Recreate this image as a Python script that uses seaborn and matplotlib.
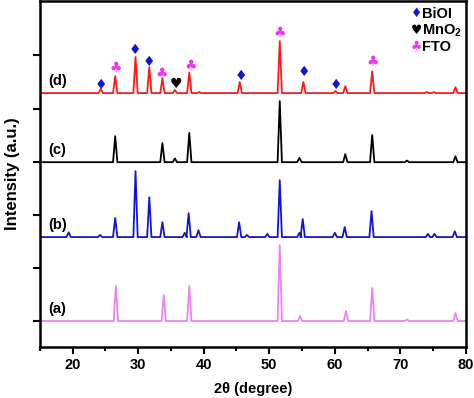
import numpy as np
import matplotlib
matplotlib.use('Agg')
import matplotlib.pyplot as plt
import seaborn as sns
import pandas as pd

# peak positions (2theta) and heights (a.u., tick spacing = 1)
a_pos = [26.6, 33.9, 37.8, 51.6, 54.7, 61.7, 65.7, 71.0, 78.4]
a_int = [0.66, 0.49, 0.66, 1.43, 0.09, 0.19, 0.62, 0.03, 0.15]

b_pos = [19.4, 24.2, 26.5, 29.6, 31.7, 33.7, 37.1, 37.7, 39.2, 45.4, 46.6, 49.7,
         51.6, 54.6, 55.1, 60.0, 61.5, 65.6, 74.2, 75.2, 78.3]
b_int = [0.09, 0.04, 0.36, 1.24, 0.75, 0.28, 0.08, 0.45, 0.13, 0.28, 0.04, 0.06,
         1.07, 0.08, 0.34, 0.08, 0.19, 0.49, 0.06, 0.06, 0.11]

c_pos = [26.5, 33.7, 35.6, 37.8, 51.6, 54.6, 61.6, 65.7, 71.0, 78.4]
c_int = [0.49, 0.36, 0.07, 0.55, 1.15, 0.08, 0.15, 0.51, 0.03, 0.11]

d_pos = [24.3, 26.5, 29.6, 31.7, 33.7, 35.6, 37.8, 39.3, 45.5, 51.6, 55.2, 60.1,
         61.6, 65.7, 74.0, 75.1, 78.4]
d_int = [0.08, 0.32, 0.68, 0.49, 0.28, 0.06, 0.39, 0.02, 0.21, 0.98, 0.21, 0.04,
         0.13, 0.41, 0.02, 0.02, 0.11]

names = ['(a)', '(b)', '(c)', '(d)']
offsets = [0.0, 1.58, 2.99, 4.29]
colors = ['#ee82ee', '#1414d8', 'black', '#ff1a1a']

# phase markers on pattern (d): 2theta and height above (d) baseline
bioi_pos = [24.3, 29.5, 31.7, 45.6, 55.3, 60.2]
bioi_h = [0.16, 0.82, 0.58, 0.33, 0.39, 0.15]
mno2_pos = [35.7]
mno2_h = [0.18]
fto_pos = [26.6, 33.6, 38.0, 51.6, 65.8]
fto_h = [0.47, 0.35, 0.50, 1.12, 0.58]


def stick_profile(pos, ints, w=0.33):
    xs, ys = [15.0], [0.0]
    for p, h in sorted(zip(pos, ints)):
        xs += [p - w, p, p + w]
        ys += [0.0, h, 0.0]
    xs.append(80.0)
    ys.append(0.0)
    return np.array(xs), np.array(ys)


sns.set_style('ticks')
plt.rcParams['font.family'] = ['Liberation Sans', 'DejaVu Sans']
plt.rcParams['font.weight'] = 'bold'
plt.rcParams['mathtext.fontset'] = 'custom'
plt.rcParams['mathtext.rm'] = 'Liberation Sans:bold'
plt.rcParams['mathtext.bf'] = 'Liberation Sans:bold'
for k in ['text.color', 'axes.labelcolor', 'xtick.color', 'ytick.color',
          'axes.edgecolor']:
    plt.rcParams[k] = 'black'

fig, ax = plt.subplots(figsize=(4.74, 3.98), dpi=100)
fig.subplots_adjust(left=0.084, right=0.983, top=0.997, bottom=0.128)

patterns = [(a_pos, a_int), (b_pos, b_int), (c_pos, c_int), (d_pos, d_int)]
for (pos, ints), name, off, col in zip(patterns, names, offsets, colors):
    xs, ys = stick_profile(pos, ints)
    df = pd.DataFrame({'two_theta': xs, 'intensity': ys + off})
    sns.lineplot(data=df, x='two_theta', y='intensity', color=col, lw=1.3,
                 sort=False, estimator=None, ax=ax)
    ax.text(17.7, off + 0.22, name, ha='center', va='center', fontsize=10.5,
            fontweight='bold')

d_off = offsets[3]
for pos, hs, sym, col in [(bioi_pos, bioi_h, '\u2666', '#1414d8'),
                          (mno2_pos, mno2_h, '\u2665', 'black'),
                          (fto_pos, fto_h, '\u2663', '#e83ce8')]:
    for p, h in zip(pos, hs):
        ax.text(p, d_off + h, sym, ha='center', va='center', color=col,
                fontsize=10, family='DejaVu Sans')

# legend
leg = [('\u2666', '#1414d8', 'BiOI'), ('\u2665', 'black', 'MnO$_2$'),
       ('\u2663', '#e83ce8', 'FTO')]
for i, (sym, col, lab) in enumerate(leg):
    yy = 0.963 - i * 0.047
    ax.text(0.884, yy, sym, transform=ax.transAxes, ha='center', va='center',
            color=col, fontsize=9, family='DejaVu Sans')
    ax.text(0.896, yy, lab, transform=ax.transAxes, ha='left', va='center',
            fontsize=10.5, fontweight='bold')

ax.set_xlim(15, 80)
ax.set_ylim(-0.49, 6.02)
ax.set_xticks([20, 30, 40, 50, 60, 70, 80])
ax.set_xticks([15, 25, 35, 45, 55, 65, 75], minor=True)
ax.set_yticks([0, 1, 2, 3, 4, 5])
ax.set_yticklabels([])
ax.tick_params(axis='both', which='major', length=5, width=1.5, direction='out')
ax.tick_params(axis='x', which='minor', length=3, width=1.5, direction='out')
ax.tick_params(axis='x', labelsize=10.5, pad=3)
for lab in ax.get_xticklabels():
    lab.set_fontweight('bold')
for sp in ax.spines.values():
    sp.set_visible(True)
    sp.set_linewidth(1.8)

ax.set_xlabel('2\u03b8 (degree)', fontsize=10.5, fontweight='bold', labelpad=7)
ax.set_ylabel('Intensity (a.u.)', fontsize=12, fontweight='bold', labelpad=6)

fig.savefig('out.png', dpi=100)
